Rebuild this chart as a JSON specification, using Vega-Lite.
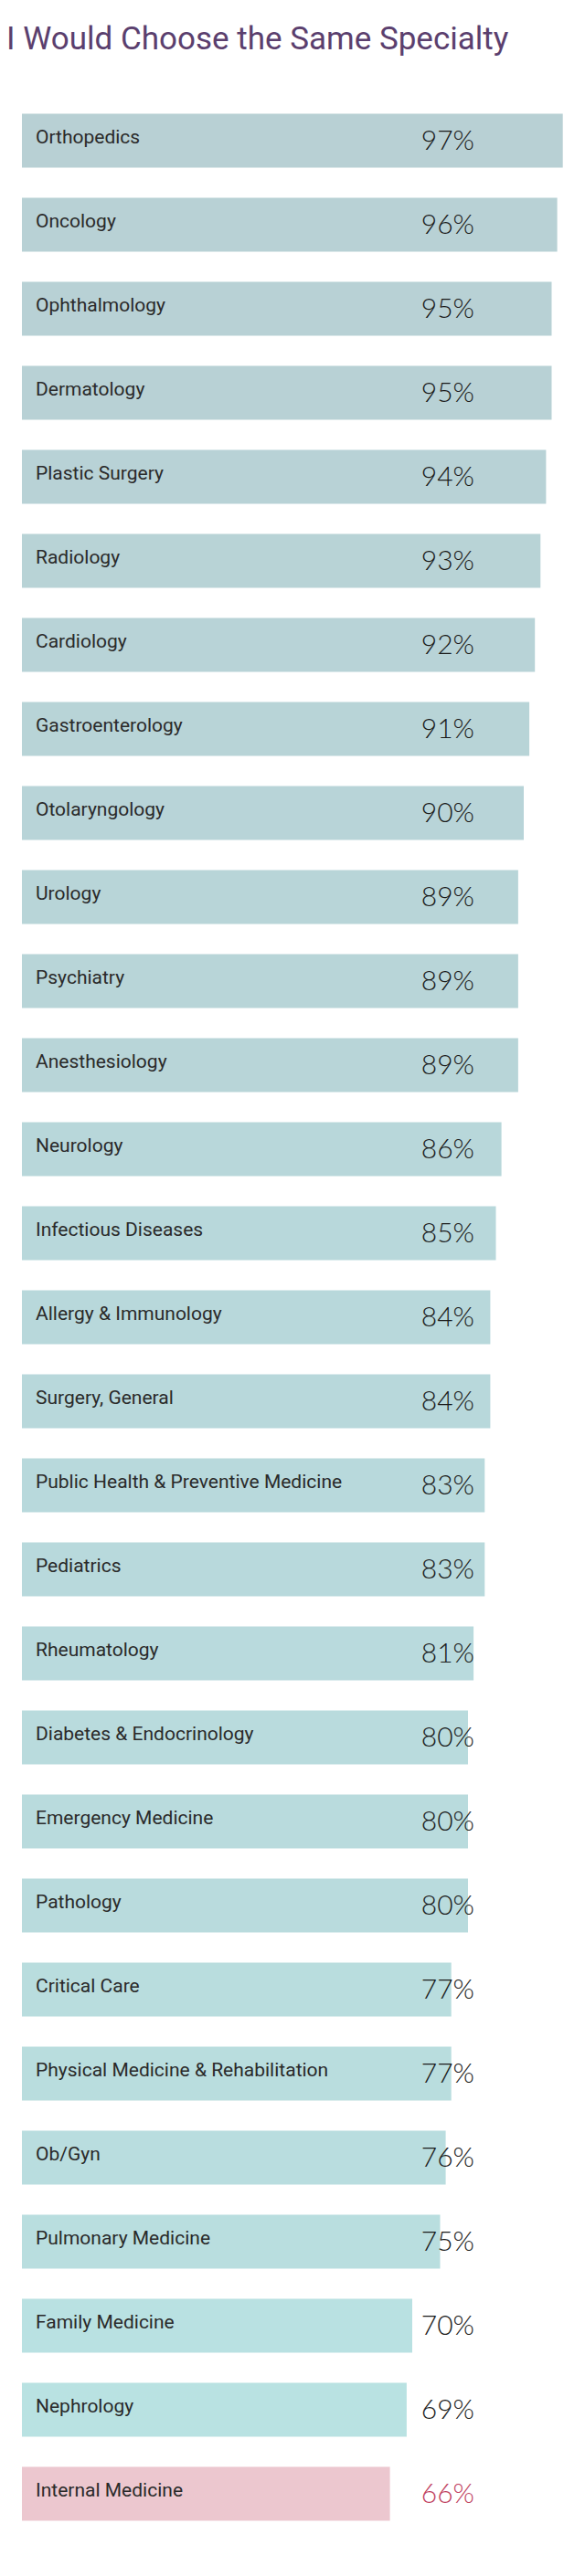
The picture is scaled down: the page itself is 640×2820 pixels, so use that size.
{
  "$schema": "https://vega.github.io/schema/vega-lite/v6.json",
  "autosize": "none",
  "width": 610,
  "height": {"step": 92},
  "padding": {"left": 24, "top": 108, "right": 6, "bottom": 44},
  "background": "#ffffff",
  "title": {
    "text": "I Would Choose the Same Specialty",
    "anchor": "start",
    "font": "Roboto",
    "fontSize": 35,
    "fontWeight": "normal",
    "color": "#5b3f6e",
    "baseline": "alphabetic",
    "offset": 19,
    "dx": -17
  },
  "data": {
    "values": [
      {"specialty": "Orthopedics", "share": 0.97},
      {"specialty": "Oncology", "share": 0.96},
      {"specialty": "Ophthalmology", "share": 0.95},
      {"specialty": "Dermatology", "share": 0.95},
      {"specialty": "Plastic Surgery", "share": 0.94},
      {"specialty": "Radiology", "share": 0.93},
      {"specialty": "Cardiology", "share": 0.92},
      {"specialty": "Gastroenterology", "share": 0.91},
      {"specialty": "Otolaryngology", "share": 0.90},
      {"specialty": "Urology", "share": 0.89},
      {"specialty": "Psychiatry", "share": 0.89},
      {"specialty": "Anesthesiology", "share": 0.89},
      {"specialty": "Neurology", "share": 0.86},
      {"specialty": "Infectious Diseases", "share": 0.85},
      {"specialty": "Allergy & Immunology", "share": 0.84},
      {"specialty": "Surgery, General", "share": 0.84},
      {"specialty": "Public Health & Preventive Medicine", "share": 0.83},
      {"specialty": "Pediatrics", "share": 0.83},
      {"specialty": "Rheumatology", "share": 0.81},
      {"specialty": "Diabetes & Endocrinology", "share": 0.80},
      {"specialty": "Emergency Medicine", "share": 0.80},
      {"specialty": "Pathology", "share": 0.80},
      {"specialty": "Critical Care", "share": 0.77},
      {"specialty": "Physical Medicine & Rehabilitation", "share": 0.77},
      {"specialty": "Ob/Gyn", "share": 0.76},
      {"specialty": "Pulmonary Medicine", "share": 0.75},
      {"specialty": "Family Medicine", "share": 0.70},
      {"specialty": "Nephrology", "share": 0.69},
      {"specialty": "Internal Medicine", "share": 0.66}
    ]
  },
  "encoding": {
    "y": {
      "field": "specialty",
      "type": "nominal",
      "sort": null,
      "axis": null,
      "scale": {"paddingInner": 0.36, "paddingOuter": 0.18}
    }
  },
  "layer": [
    {
      "mark": {"type": "bar"},
      "encoding": {
        "x": {
          "field": "share",
          "type": "quantitative",
          "axis": null,
          "scale": {"domain": [0, 1], "nice": false}
        },
        "color": {
          "condition": {"test": "datum.specialty === 'Internal Medicine'", "value": "#ecc7cf"},
          "field": "share",
          "type": "quantitative",
          "legend": null,
          "scale": {"domain": [0.69, 0.97], "range": ["#b9e2e2", "#b8d0d4"]}
        }
      }
    },
    {
      "mark": {
        "type": "text",
        "align": "left",
        "baseline": "middle",
        "dx": 15,
        "dy": -3,
        "font": "Roboto",
        "fontSize": 21,
        "color": "#2a2a2a"
      },
      "encoding": {
        "x": {"datum": 0, "type": "quantitative"},
        "text": {"field": "specialty"}
      }
    },
    {
      "mark": {
        "type": "text",
        "align": "left",
        "baseline": "middle",
        "dy": 1,
        "font": "Lato",
        "fontSize": 30,
        "fontWeight": 300
      },
      "encoding": {
        "x": {"datum": 0.716, "type": "quantitative"},
        "text": {"field": "share", "format": ".0%"},
        "color": {
          "condition": {"test": "datum.specialty === 'Internal Medicine'", "value": "#c0405e"},
          "value": "#1a1a1a"
        }
      }
    }
  ],
  "config": {"view": {"stroke": null}}
}
